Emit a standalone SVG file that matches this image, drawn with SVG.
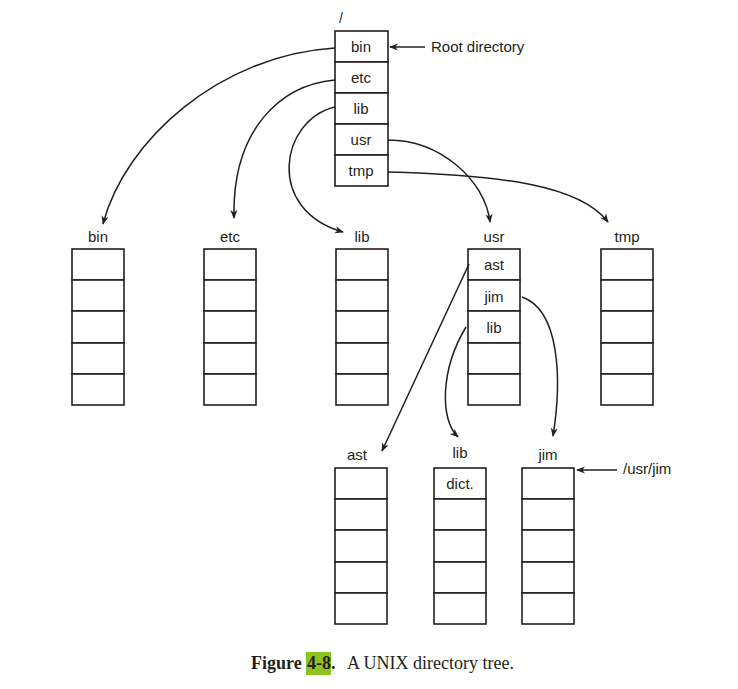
<svg xmlns="http://www.w3.org/2000/svg" width="738" height="689" viewBox="0 0 738 689">
<style>
.c{fill:#fff;stroke:#231f20;stroke-width:1.6}
.t{font-family:"Liberation Sans",Arial,sans-serif;font-size:15px;fill:#231f20;text-anchor:middle}
.a{fill:none;stroke:#231f20;stroke-width:1.5;marker-end:url(#ah)}
.cap{font-family:"Liberation Serif",serif;font-size:18px;fill:#231f20}
</style>
<defs>
<marker id="ah" viewBox="0 0 10 10" refX="9" refY="5" markerWidth="9" markerHeight="9" markerUnits="userSpaceOnUse" orient="auto"><path d="M0,1 L10,5 L0,9 L3,5 z" fill="#231f20"/></marker>
</defs>
<rect width="738" height="689" fill="#fff"/>
<g id="root">
<text class="t" x="341" y="23" style="font-size:14px">/</text>
<rect class="c" x="335" y="31" width="53" height="31"/><rect class="c" x="335" y="62" width="53" height="31"/><rect class="c" x="335" y="93" width="53" height="31"/><rect class="c" x="335" y="124" width="53" height="31"/><rect class="c" x="335" y="155" width="53" height="31"/>
<text class="t" x="361" y="52">bin</text><text class="t" x="361" y="83">etc</text><text class="t" x="361" y="114">lib</text><text class="t" x="361" y="145">usr</text><text class="t" x="361" y="176">tmp</text>
<text class="t" x="431" y="52" style="text-anchor:start">Root directory</text>
</g>
<g id="bin"><text class="t" x="98" y="242">bin</text>
<rect class="c" x="72" y="249" width="52" height="31"/><rect class="c" x="72" y="280" width="52" height="31"/><rect class="c" x="72" y="311" width="52" height="32"/><rect class="c" x="72" y="343" width="52" height="31"/><rect class="c" x="72" y="374" width="52" height="31"/></g>
<g id="etc"><text class="t" x="230" y="242">etc</text>
<rect class="c" x="204" y="249" width="52" height="31"/><rect class="c" x="204" y="280" width="52" height="31"/><rect class="c" x="204" y="311" width="52" height="32"/><rect class="c" x="204" y="343" width="52" height="31"/><rect class="c" x="204" y="374" width="52" height="31"/></g>
<g id="lib"><text class="t" x="362" y="242">lib</text>
<rect class="c" x="336" y="249" width="52" height="31"/><rect class="c" x="336" y="280" width="52" height="31"/><rect class="c" x="336" y="311" width="52" height="32"/><rect class="c" x="336" y="343" width="52" height="31"/><rect class="c" x="336" y="374" width="52" height="31"/></g>
<g id="usr"><text class="t" x="494" y="242">usr</text>
<rect class="c" x="468" y="249" width="52" height="31"/><rect class="c" x="468" y="280" width="52" height="31"/><rect class="c" x="468" y="311" width="52" height="32"/><rect class="c" x="468" y="343" width="52" height="31"/><rect class="c" x="468" y="374" width="52" height="31"/>
<text class="t" x="494" y="270">ast</text><text class="t" x="494" y="302">jim</text><text class="t" x="494" y="333">lib</text></g>
<g id="tmp"><text class="t" x="627" y="242">tmp</text>
<rect class="c" x="601" y="249" width="52" height="31"/><rect class="c" x="601" y="280" width="52" height="31"/><rect class="c" x="601" y="311" width="52" height="32"/><rect class="c" x="601" y="343" width="52" height="31"/><rect class="c" x="601" y="374" width="52" height="31"/></g>
<g id="ast"><text class="t" x="357" y="460">ast</text>
<rect class="c" x="335" y="468" width="52" height="31"/><rect class="c" x="335" y="499" width="52" height="31"/><rect class="c" x="335" y="530" width="52" height="32"/><rect class="c" x="335" y="562" width="52" height="31"/><rect class="c" x="335" y="593" width="52" height="31"/></g>
<g id="lib2"><text class="t" x="460" y="458">lib</text>
<rect class="c" x="434" y="468" width="52" height="31"/><rect class="c" x="434" y="499" width="52" height="31"/><rect class="c" x="434" y="530" width="52" height="32"/><rect class="c" x="434" y="562" width="52" height="31"/><rect class="c" x="434" y="593" width="52" height="31"/>
<text class="t" x="460" y="489">dict.</text></g>
<g id="jim"><text class="t" x="548" y="460">jim</text>
<rect class="c" x="522" y="468" width="52" height="31"/><rect class="c" x="522" y="499" width="52" height="31"/><rect class="c" x="522" y="530" width="52" height="32"/><rect class="c" x="522" y="562" width="52" height="31"/><rect class="c" x="522" y="593" width="52" height="31"/>
<text class="t" x="623" y="474" style="text-anchor:start">/usr/jim</text></g>
<g id="connectors">
<line class="a" x1="425" y1="47" x2="390" y2="47"/>
<line class="a" x1="617" y1="470" x2="577" y2="470"/>
<path class="a" d="M335,48 C220,55 125,140 103,224"/>
<path class="a" d="M335,80 C280,85 232,130 234,218"/>
<path class="a" d="M335,107 C280,120 265,210 343,232"/>
<path class="a" d="M388,140 C440,140 485,180 490,222"/>
<path class="a" d="M388,172 C500,175 580,185 608,222"/>
<path class="a" d="M469,264 L382,451"/>
<path class="a" d="M466,327 C440,370 440,420 458,437"/>
<path class="a" d="M522,297 C560,310 562,380 553,436"/>
</g>
<g id="caption">
<rect x="306" y="652" width="25" height="23" fill="#8dc21f"/>
<text class="cap" x="251" y="669" font-weight="bold">Figure</text>
<text class="cap" x="307" y="669" font-weight="bold">4-8</text>
<text class="cap" x="331" y="669" font-weight="bold">.</text>
<text class="cap" x="347" y="669">A UNIX directory tree.</text>
</g>
</svg>
